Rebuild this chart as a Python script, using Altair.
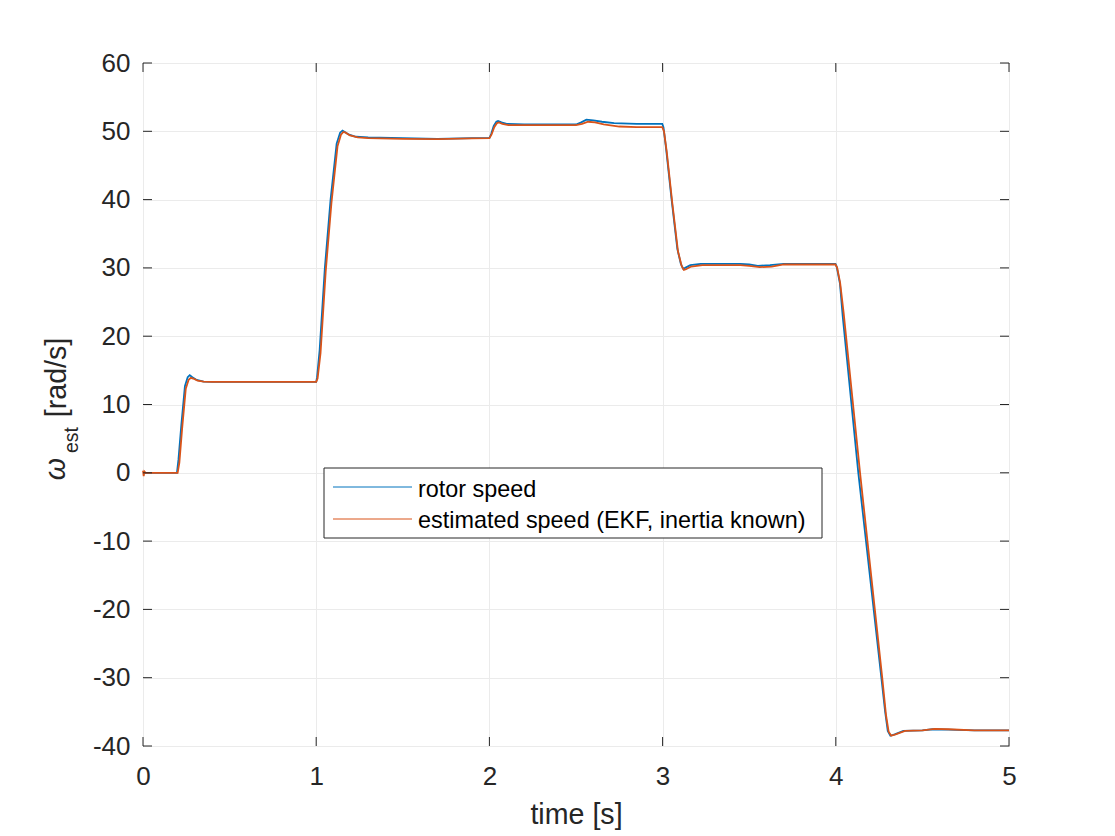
import altair as alt
import pandas as pd

# ---- data ----
rotor_t = [0, 0.196, 0.205, 0.221, 0.242, 0.258, 0.27, 0.285, 0.31, 0.35, 0.4, 0.6, 0.8, 1.0,
           1.005, 1.02, 1.05, 1.083, 1.118, 1.138, 1.152, 1.165, 1.19, 1.23, 1.3, 1.5, 1.7, 1.9, 2.0,
           2.01, 2.025, 2.04, 2.05, 2.07, 2.1, 2.2, 2.4, 2.5, 2.53, 2.56, 2.6, 2.65, 2.72, 2.85, 2.998,
           3.005, 3.02, 3.052, 3.085, 3.105, 3.118, 3.13, 3.16, 3.22, 3.45, 3.5, 3.55, 3.62, 3.7, 3.9, 3.998,
           4.005, 4.024, 4.04, 4.13, 4.264, 4.285, 4.3, 4.315, 4.34, 4.39, 4.5, 4.56, 4.65, 4.8, 5.0]
rotor_w = [0, 0, 2.0, 6.9, 12.7, 14.0, 14.3, 14.0, 13.6, 13.35, 13.3, 13.3, 13.3, 13.3,
           14.0, 18.0, 30.0, 40.0, 48.2, 49.8, 50.1, 49.9, 49.5, 49.2, 49.1, 49.0, 48.9, 49.0, 49.0,
           49.6, 50.8, 51.4, 51.5, 51.3, 51.1, 51.0, 51.0, 51.0, 51.3, 51.7, 51.6, 51.4, 51.2, 51.1, 51.1,
           50.6, 47.5, 40.0, 32.8, 30.6, 29.9, 30.0, 30.4, 30.6, 30.6, 30.5, 30.3, 30.4, 30.6, 30.6, 30.6,
           30.2, 27.7, 22.9, 0.0, -30.2, -35.0, -37.8, -38.5, -38.3, -37.8, -37.7, -37.55, -37.6, -37.7, -37.7]

est_t = [0, 0.004, 0.008, 0.015, 0.2, 0.21, 0.226, 0.247, 0.263, 0.276, 0.29, 0.315, 0.35, 0.4, 0.6, 0.8, 1.0,
         1.008, 1.025, 1.055, 1.088, 1.123, 1.143, 1.157, 1.17, 1.195, 1.24, 1.3, 1.5, 1.7, 1.9, 2.0,
         2.012, 2.028, 2.044, 2.055, 2.075, 2.11, 2.2, 2.4, 2.5, 2.535, 2.57, 2.61, 2.66, 2.75, 2.85, 2.998,
         3.008, 3.024, 3.056, 3.089, 3.11, 3.123, 3.135, 3.165, 3.23, 3.45, 3.5, 3.56, 3.63, 3.7, 3.9, 3.998,
         4.008, 4.025, 4.045, 4.14, 4.268, 4.29, 4.305, 4.32, 4.345, 4.4, 4.5, 4.57, 4.65, 4.8, 5.0]
est_w = [0.3, -0.5, 0.2, 0, 0, 1.5, 6.5, 12.3, 13.6, 13.9, 13.8, 13.5, 13.35, 13.3, 13.3, 13.3, 13.3,
         13.8, 17.5, 29.5, 39.5, 47.8, 49.5, 49.9, 49.8, 49.4, 49.1, 49.0, 48.9, 48.85, 48.95, 49.0,
         49.5, 50.6, 51.2, 51.3, 51.1, 50.9, 50.9, 50.9, 50.9, 51.1, 51.4, 51.3, 51.0, 50.7, 50.6, 50.6,
         50.0, 47.0, 39.5, 32.4, 30.3, 29.7, 29.8, 30.2, 30.4, 30.4, 30.3, 30.1, 30.2, 30.5, 30.5, 30.5,
         30.0, 27.8, 23.5, 0.0, -30.0, -35.5, -37.9, -38.5, -38.3, -37.8, -37.7, -37.5, -37.55, -37.7, -37.7]

x_ticks = [0, 1, 2, 3, 4, 5]
y_ticks = [-40, -30, -20, -10, 0, 10, 20, 30, 40, 50, 60]
series_names = ["rotor speed", "estimated speed (EKF, inertia known)"]
series_colors = ["#0072BD", "#D95319"]

# ---- layout ----
W, H = 866, 683
FONT = "Liberation Sans"
INK = "#262626"
TICK = 9

xs = alt.Scale(domain=[0, 5], nice=False, zero=False)
ys = alt.Scale(domain=[-40, 60], nice=False, zero=False)

rotor_df = pd.DataFrame({"t": rotor_t, "w": rotor_w})
est_df = pd.DataFrame({"t": est_t, "w": est_w})
xt_df = pd.DataFrame({"t": x_ticks})
yt_df = pd.DataFrame({"w": y_ticks})
one = pd.DataFrame({"a": [0]})

x_axis = alt.Axis(values=x_ticks, grid=True, gridColor="#ebebeb", gridWidth=1,
                  ticks=False, tickSize=0, domain=False,
                  labelFont=FONT, labelFontSize=26, labelColor=INK, labelPadding=17,
                  labelFlush=False, labelExpr="'' + datum.value",
                  title="time [s]", titleFont=FONT, titleFontSize=28.6, titleFontWeight="normal",
                  titleColor=INK, titleBaseline="alphabetic", titleY=77)
y_axis = alt.Axis(values=y_ticks, grid=True, gridColor="#ebebeb", gridWidth=1,
                  ticks=False, tickSize=0, domain=False,
                  labelFont=FONT, labelFontSize=26, labelColor=INK, labelPadding=13,
                  labelFlush=False, labelExpr="'' + datum.value", title="")

X = alt.X("t:Q", scale=xs, axis=x_axis, title="time [s]")
Y = alt.Y("w:Q", scale=ys, axis=y_axis, title="")

blue = alt.Chart(rotor_df).mark_line(color=series_colors[0], strokeWidth=1.8).encode(x=X, y=Y)
orange = alt.Chart(est_df).mark_line(color=series_colors[1], strokeWidth=1.8).encode(x=X, y=Y)

# inward ticks on all four sides
tick_mark = dict(color=INK, strokeWidth=1)
xb = alt.Chart(xt_df).mark_rule(**tick_mark).encode(
    x=X, y=alt.value(H), y2=alt.value(H - TICK))
xtp = alt.Chart(xt_df).mark_rule(**tick_mark).encode(
    x=X, y=alt.value(0), y2=alt.value(TICK))
yl = alt.Chart(yt_df).mark_rule(**tick_mark).encode(
    y=Y, x=alt.value(0), x2=alt.value(TICK))
yr = alt.Chart(yt_df).mark_rule(**tick_mark).encode(
    y=Y, x=alt.value(W - TICK), x2=alt.value(W))

# y-axis title: omega with subscript "est"
t_omega = alt.Chart(one).mark_text(font=FONT, fontSize=28.6, fontStyle="italic", color=INK,
                                   angle=270, align="center", baseline="alphabetic").encode(
    x=alt.value(-78), y=alt.value(406), text=alt.value("ω"))
t_est = alt.Chart(one).mark_text(font=FONT, fontSize=19.5, color=INK,
                                 angle=270, align="center", baseline="alphabetic").encode(
    x=alt.value(-65), y=alt.value(377), text=alt.value("est"))
t_unit = alt.Chart(one).mark_text(font=FONT, fontSize=28.6, color=INK,
                                  angle=270, align="center", baseline="alphabetic").encode(
    x=alt.value(-77), y=alt.value(314.5), text=alt.value("[rad/s]"))

# legend box
leg_box = alt.Chart(one).mark_rect(fill="white", stroke=INK, strokeWidth=1).encode(
    x=alt.value(181), x2=alt.value(679), y=alt.value(405), y2=alt.value(475))
leg_l1 = alt.Chart(one).mark_rule(color=series_colors[0], strokeWidth=1).encode(
    x=alt.value(190), x2=alt.value(269), y=alt.value(424))
leg_l2 = alt.Chart(one).mark_rule(color=series_colors[1], strokeWidth=1).encode(
    x=alt.value(190), x2=alt.value(269), y=alt.value(456))
leg_t1 = alt.Chart(one).mark_text(font=FONT, fontSize=23.4, color="#000000",
                                  align="left", baseline="alphabetic").encode(
    x=alt.value(275), y=alt.value(434.3), text=alt.value(series_names[0]))
leg_t2 = alt.Chart(one).mark_text(font=FONT, fontSize=23.4, color="#000000",
                                  align="left", baseline="alphabetic").encode(
    x=alt.value(275), y=alt.value(465.3), text=alt.value(series_names[1]))

chart = alt.layer(
    blue, orange, xb, xtp, yl, yr,
    leg_box, leg_l1, leg_l2, leg_t1, leg_t2,
    t_omega, t_est, t_unit,
).properties(
    width=W, height=H,
    padding={"left": 135, "top": 55, "right": 20, "bottom": 85},
    autosize=alt.AutoSizeParams(type="none"),
    background="white",
).configure_view(stroke=INK, strokeWidth=1)

chart.save("out.html", embed_options={"renderer": "svg", "actions": False})
